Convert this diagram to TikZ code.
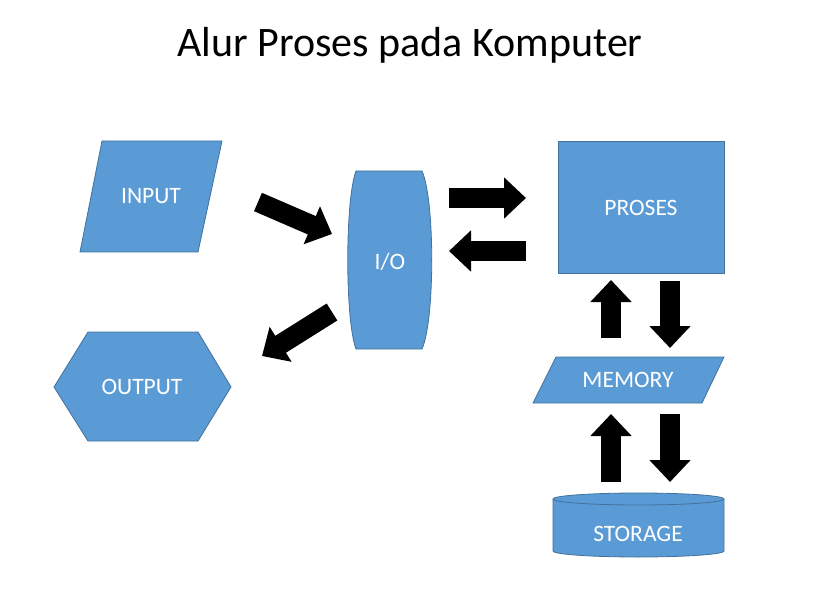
\documentclass[tikz,border=0pt]{standalone}
\usepackage{fontspec}
\setmainfont{Carlito}
\usetikzlibrary{arrows.meta,shapes.geometric}
\definecolor{boxblue}{RGB}{91,155,213}
\definecolor{edgeblue}{RGB}{65,113,156}
\tikzset{
  shp/.style={fill=boxblue, draw=edgeblue, line width=0.8pt},
  lbl/.style={text=white, font=\fontsize{23.5}{27}\selectfont},
  blk/.style={line width=20pt, -{Triangle[length=22pt,width=40pt]}}
}
\begin{document}
\begin{tikzpicture}[x=1pt,y=-1pt]
  \useasboundingbox (0,0) rectangle (824,612);
  \node[font=\fontsize{42}{48}\selectfont] (title) at (410,45) {Alur Proses pada Komputer};
  % input
  \draw[shp] (102,141) -- (222,141) -- (198,252) -- (80,252) -- cycle;
  \node[lbl] (input) at (151,196) {INPUT};
  % output
  \draw[shp] (54,387) -- (88,332) -- (198,332) -- (231,387) -- (198,441) -- (88,441) -- cycle;
  \node[lbl] (output) at (142,387) {OUTPUT};
  % i/o
  \draw[shp] (356,171) -- (422,171) .. controls (435,200) and (435,320) .. (422,349)
    -- (356,349) .. controls (345,320) and (345,200) .. (356,171) -- cycle;
  \node[lbl] (io) at (390,262) {I/O};
  % proses
  \draw[shp] (558,141) rectangle (724,273);
  \node[lbl] (proses) at (641,208) {PROSES};
  % memory
  \draw[shp] (556,357) -- (724,357) -- (702,403) -- (533,403) -- cycle;
  \node[lbl] (memory) at (628,380) {MEMORY};
  % storage
  \draw[shp] (553,499) -- (553,551) arc[start angle=180, end angle=360, x radius=85.5, y radius=-6]
    -- (724,499);
  \draw[shp] (638.5,499) ellipse[x radius=85.5, y radius=6];
  \node[lbl] (storage) at (638,534) {STORAGE};
  % arrows
  \coordinate (a1) at (258,202); \coordinate (b1) at (332,234);
  \coordinate (a2) at (449,198); \coordinate (b2) at (526,198);
  \coordinate (a3) at (526,251); \coordinate (b3) at (449,251);
  \coordinate (a4) at (332,312); \coordinate (b4) at (262,356);
  \draw[blk] (a1) -- (b1);
  \draw[blk] (a2) -- (b2);
  \draw[blk] (a3) -- (b3);
  \draw[blk] (a4) -- (b4);
  \coordinate (u1) at (611,338); \coordinate (v1) at (611,280);
  \coordinate (u2) at (670,281); \coordinate (v2) at (670,348);
  \coordinate (u3) at (611,482); \coordinate (v3) at (611,414);
  \coordinate (u4) at (670,414); \coordinate (v4) at (670,482);
  \draw[blk] (u1) -- (v1);
  \draw[blk] (u2) -- (v2);
  \draw[blk] (u3) -- (v3);
  \draw[blk] (u4) -- (v4);
\end{tikzpicture}
\end{document}
